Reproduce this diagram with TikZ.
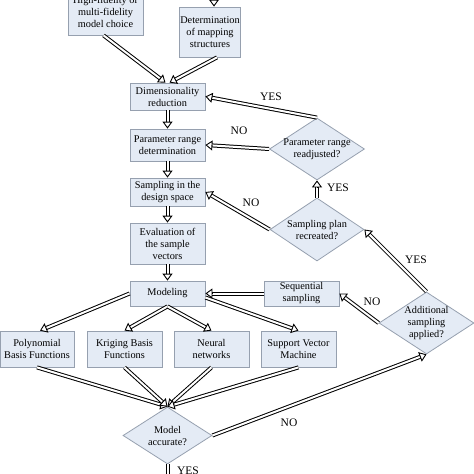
\documentclass[tikz,border=0pt]{standalone}
\usepackage{fontspec}
\setmainfont{Liberation Serif}
\usetikzlibrary{arrows.meta,shapes.geometric,calc}
\definecolor{BoxFill}{RGB}{228,235,245}
\definecolor{BoxEdge}{RGB}{150,160,175}
\newcommand{\flowline}[2]{%
  \draw[shaft] (#1) -- (#2);
  \draw[tiphead] ($(#2)!7pt!(#1)$) -- (#2);}

\begin{document}
\begin{tikzpicture}[x=1pt,y=-1pt,
  stepbox/.style={draw=BoxEdge,fill=BoxFill,line width=0.8pt,minimum width=75pt,
    inner sep=1pt,align=center,font=\fontsize{10.3}{12}\selectfont},
  decision/.style={diamond,draw=BoxEdge,fill=BoxFill,line width=0.8pt,inner sep=0pt},
  dtext/.style={align=center,font=\fontsize{10.3}{12}\selectfont},
  shaft/.style={double=white,double distance=2pt,line width=1pt,shorten >=4pt},
  tiphead/.style={line width=0.9pt,-{Triangle[fill=white,length=7pt,width=10pt]}},
  answer/.style={font=\fontsize{11.5}{13}\selectfont}]
\useasboundingbox (0,0) rectangle (474,474);
\clip (0,0) rectangle (474,474);

% boxes
\node[stepbox,minimum height=46pt] (hifi) at (105.5,12) {High-fidelity or\\multi-fidelity\\model choice};
\node[stepbox,minimum width=60pt,minimum height=50pt] (determ) at (210,32) {Determination\\of mapping\\structures};
\node[stepbox,minimum height=27pt] (dimred) at (167.5,96.5) {Dimensionality\\reduction};
\node[stepbox,minimum height=32pt] (pardet) at (167.5,145) {Parameter range\\determination};
\node[stepbox,minimum height=28pt] (sampds) at (167.5,192) {Sampling in the\\design space};
\node[stepbox,minimum height=41pt] (evalsv) at (167.5,243.5) {Evaluation of\\the sample\\vectors};
\node[stepbox,minimum height=25pt] (model) at (167.5,293.5) {Modeling};
\node[stepbox,minimum height=25pt,inner ysep=0pt] (seqs) at (301.5,293.5) {Sequential\\sampling};
\node[stepbox,minimum width=74pt,minimum height=36pt] (poly) at (37,349) {Polynomial\\Basis Functions};
\node[stepbox,minimum height=36pt] (krig) at (124.5,349) {Kriging Basis\\Functions};
\node[stepbox,minimum height=36pt] (neur) at (211.5,349) {Neural\\networks};
\node[stepbox,minimum height=36pt] (svm) at (298.5,349) {Support Vector\\Machine};

% decisions
\node[decision,minimum width=95pt,minimum height=62pt,
  label={[dtext]center:Parameter range\\readjusted?}] (parre) at (317,149) {};
\node[decision,minimum width=94pt,minimum height=63pt,
  label={[dtext]center:Sampling plan\\recreated?}] (planre) at (317,229.5) {};
\node[decision,minimum width=95pt,minimum height=62pt,
  label={[dtext]center:Additional\\sampling\\applied?}] (addsam) at (426.5,323) {};
\node[decision,minimum width=89pt,minimum height=57pt,
  label={[dtext]center:Model\\accurate?}] (accur) at (167.5,435.5) {};

\coordinate (topin) at (214,-20);
\coordinate (botout) at (167.5,490);

% connectors
\flowline{topin}{[xshift=4pt]determ.north}
\flowline{[xshift=-2pt]hifi.south}{[xshift=-2pt]dimred.north}
\flowline{[xshift=7pt]determ.south}{[xshift=2pt]dimred.north}
\flowline{dimred.south}{pardet.north}
\flowline{pardet.south}{sampds.north}
\flowline{sampds.south}{evalsv.north}
\flowline{evalsv.south}{model.north}
\flowline{parre.north}{dimred.east}
\flowline{parre.west}{pardet.east}
\flowline{planre.north}{parre.south}
\flowline{planre.west}{sampds.east}
\flowline{addsam.north}{planre.east}
\flowline{addsam.west}{seqs.east}
\flowline{seqs.west}{model.east}
\flowline{model.west}{[xshift=3pt]poly.north}
\flowline{model.south}{krig.north}
\flowline{model.south}{neur.north}
\flowline{[yshift=-4pt]model.east}{svm.north}
\flowline{poly.south}{accur.north}
\flowline{krig.south}{accur.north}
\flowline{neur.south}{accur.north}
\flowline{svm.south}{accur.north}
\flowline{accur.east}{addsam.south}
\flowline{accur.south}{botout}

% answers
\node[answer] (yesA) at (271,97) {YES};
\node[answer] (noA) at (239,131) {NO};
\node[answer] (yesB) at (338,188) {YES};
\node[answer] (noB) at (251,203) {NO};
\node[answer] (yesC) at (416,260) {YES};
\node[answer] (noC) at (372,302) {NO};
\node[answer] (noD) at (289,423) {NO};
\node[answer] (yesD) at (188,471) {YES};
\end{tikzpicture}
\end{document}
